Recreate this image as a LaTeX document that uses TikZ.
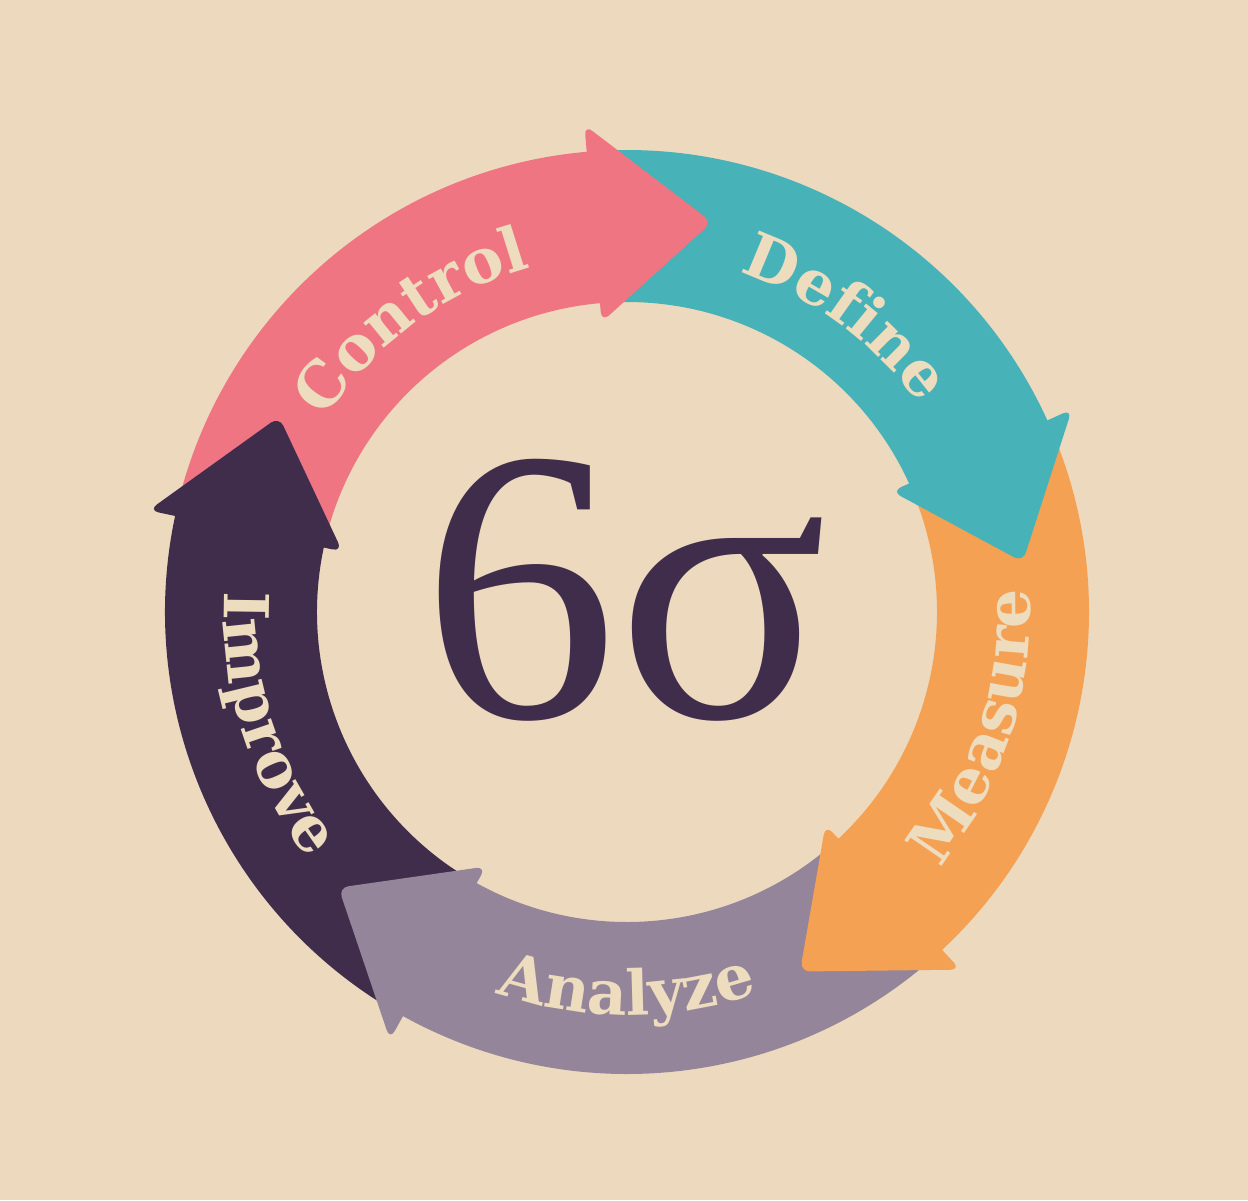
\documentclass[tikz,border=0pt]{standalone}
\usepackage{fontspec}
\setmainfont{DejaVu Serif}
\newfontfamily\sigmafont{Liberation Serif}
\usetikzlibrary{decorations.text}
\definecolor{bg}{HTML}{EDDABE}
\definecolor{ctrlpink}{HTML}{EF7583}
\definecolor{defteal}{HTML}{47B2B7}
\definecolor{measorange}{HTML}{F5A153}
\definecolor{analgray}{HTML}{94859A}
\definecolor{imppurple}{HTML}{402D4C}
\definecolor{labeltxt}{HTML}{EEDCBE}
\newcommand{\ringfont}{\bfseries\fontsize{17.6}{20}\selectfont}
\begin{document}
\begin{tikzpicture}[
  arrowhead/.style={fill=#1,rounded corners=0.1cm},
  curvedlabel/.style={decorate,decoration={text along path,
    text={|\ringfont|#1},text color=labeltxt,text align=center}}]
\useasboundingbox[fill=bg] (-6.27,-5.88) rectangle (6.21,6.12);
% ring bands, each one starts and ends under a head
\foreach \c/\s/\e in {ctrlpink/168/95,defteal/95/24.5,measorange/24.5/-47,
  analgray/-47/-119,imppurple/-119/-192}{
  \pgfmathsetmacro\start{\s-1.5}
  \pgfmathsetmacro\stop{\e-1}
  \fill[\c] (\start:4.62) arc[start angle=\start,end angle=\stop,radius=4.62]
    -- (\stop:3.10) arc[start angle=\stop,end angle=\start,radius=3.10] -- cycle;
}
% heads
\foreach \c/\e in {ctrlpink/95,defteal/24.5,measorange/-47,analgray/-119,imppurple/168}
  \fill[arrowhead=\c] (\e:4.89) -- (\e-17.3:3.99) -- (\e:2.91) -- cycle;
% labels, top half clockwise, bottom half counterclockwise
\foreach \txt/\s/\e/\r in {Control/156.5/96.5/3.58,Define/83.5/23.5/3.58,
  Measure/-48/12/4.03,Analyze/-120/-60/4.03,Improve/167.5/227.5/4.03}
  \path[curvedlabel=\txt] (\s:\r) arc[start angle=\s,end angle=\e,radius=\r];
\node[text=imppurple,font=\sigmafont\fontsize{111}{120}\selectfont,anchor=base,inner sep=0pt]
  (sixsigma) at (-0.02,-1.05) {6σ};
\end{tikzpicture}
\end{document}
